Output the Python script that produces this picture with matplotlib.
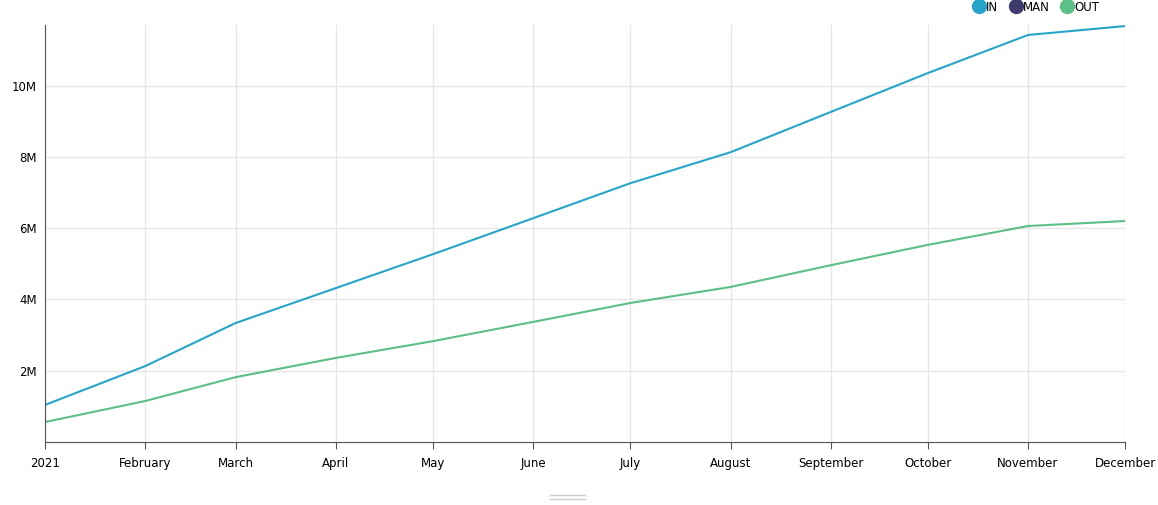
import matplotlib
matplotlib.use("Agg")
import matplotlib.pyplot as plt
import matplotlib.dates as mdates
import datetime as dt
from matplotlib.lines import Line2D

months = [dt.date(2021, m, 1) for m in range(1, 13)]
tick_labels = ["2021", "February", "March", "April", "May", "June", "July",
               "August", "September", "October", "November", "December"]
in_vals = [1.04, 2.13, 3.34, 4.32, 5.27, 6.28, 7.26, 8.13, 9.26, 10.35, 11.42, 11.67]
out_vals = [0.56, 1.15, 1.82, 2.36, 2.83, 3.37, 3.90, 4.35, 4.96, 5.53, 6.06, 6.20]
in_vals = [v * 1e6 for v in in_vals]
out_vals = [v * 1e6 for v in out_vals]

C_IN, C_MAN, C_OUT = "#27a4c9", "#3f3b6f", "#5cbf86"

fig = plt.figure(figsize=(11.58, 5.05), dpi=100)
ax = fig.add_axes([45/1158, 1-442/505, (1125-45)/1158, (442-25)/505])
ax.plot(months, in_vals, color=C_IN, lw=1.5)
ax.plot(months, out_vals, color=C_OUT, lw=1.5)
ax.set_xlim(months[0], months[-1])
ax.set_ylim(0, 11.7e6)
ax.set_yticks([2e6, 4e6, 6e6, 8e6, 10e6])
ax.set_yticklabels(["2M", "4M", "6M", "8M", "10M"])
ax.set_xticks(months)
ax.set_xticklabels(tick_labels)
ax.grid(True, color="#e6e6e6", lw=1)
ax.set_axisbelow(True)
for s in ["top", "right"]:
    ax.spines[s].set_visible(False)
ax.spines["left"].set_color("#555555")
ax.spines["bottom"].set_color("#555555")
ax.tick_params(labelsize=8.5, length=0, pad=6)
ax.tick_params(axis="x", length=5, color="#555555")

handles = [Line2D([], [], marker="o", ls="", color=c, markersize=10) for c in (C_IN, C_MAN, C_OUT)]
fig.legend(handles, ["IN", "MAN", "OUT"], loc="upper right", bbox_to_anchor=(1110/1158, 1.02),
           ncol=3, frameon=False, fontsize=8.5, handletextpad=0.0, columnspacing=0.9,
           handlelength=1.2)
fig.add_artist(Line2D([550/1158, 585/1158], [1-495/505]*2, color="#cccccc", lw=1))
fig.add_artist(Line2D([550/1158, 585/1158], [1-499/505]*2, color="#cccccc", lw=1))
fig.savefig("out.png", dpi=100)
